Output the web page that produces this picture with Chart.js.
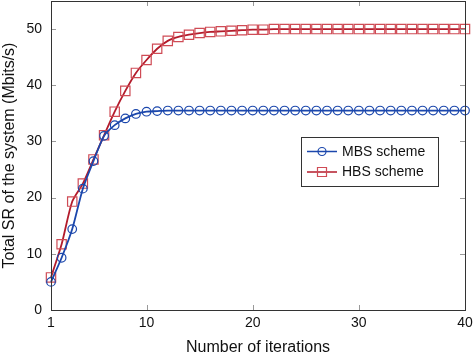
<!DOCTYPE html>
<html><head><meta charset="utf-8">
<script src="https://cdn.jsdelivr.net/npm/chart.js@4"></script>
<style>html,body{margin:0;padding:0;background:#fff}#wrap{width:474px;height:353px}</style>
</head><body><div id="wrap"><canvas id="c" width="474" height="353"></canvas></div>
<script>
const iterations = [1,2,3,4,5,6,7,8,9,10,11,12,13,14,15,16,17,18,19,20,21,22,23,24,25,26,27,28,29,30,31,32,33,34,35,36,37,38,39,40];
const mbs = [5.0,9.3,14.4,21.6,26.5,31.0,32.9,34.1,34.9,35.3,35.4,35.5,35.5,35.5,35.5,35.5,35.5,35.5,35.5,35.5,35.5,35.5,35.5,35.5,35.5,35.5,35.5,35.5,35.5,35.5,35.5,35.5,35.5,35.5,35.5,35.5,35.5,35.5,35.5,35.5];
const hbs = [5.8,11.7,19.3,22.5,26.8,31.1,35.3,39.0,42.2,44.5,46.5,47.9,48.6,49.0,49.3,49.5,49.6,49.7,49.8,49.9,49.9,50.0,50.0,50.0,50.0,50.0,50.0,50.0,50.0,50.0,50.0,50.0,50.0,50.0,50.0,50.0,50.0,50.0,50.0,50.0];
const xTicks = [1,10,20,30,40];
const yTicks = [0,10,20,30,40,50];
const seriesNames = ['MBS scheme','HBS scheme'];

const BLUE = '#1b47ac', RED = '#b31b2b', RED_M = '#cf4b55';
const FONT = 'Liberation Sans, Arial, Helvetica, sans-serif';

const boxPlugin = {
  id: 'box',
  afterDatasetsDraw(chart) {
    const {ctx, chartArea: a, scales: {x, y}} = chart;
    ctx.save();
    ctx.strokeStyle = '#999'; ctx.lineWidth = 1;
    ctx.beginPath();
    xTicks.forEach(v => {
      const px = Math.round(x.getPixelForValue(v)) + 0.5;
      ctx.moveTo(px, a.bottom); ctx.lineTo(px, a.bottom - 5);
      ctx.moveTo(px, a.top); ctx.lineTo(px, a.top + 5);
    });
    yTicks.forEach(v => {
      const py = Math.round(y.getPixelForValue(v)) + 0.5;
      ctx.moveTo(a.left, py); ctx.lineTo(a.left + 5, py);
      ctx.moveTo(a.right, py); ctx.lineTo(a.right - 5, py);
    });
    ctx.stroke();
    ctx.strokeStyle = '#333';
    ctx.strokeRect(Math.round(a.left) + 0.5, Math.round(a.top) + 0.5, Math.round(a.right - a.left), Math.round(a.bottom - a.top));
    // legend
    const lx = 301, ly = 137, lw = 137, lh = 49;
    ctx.fillStyle = '#fff';
    ctx.fillRect(lx, ly, lw, lh);
    ctx.strokeStyle = '#333';
    ctx.strokeRect(lx + 0.5, ly + 0.5, lw, lh);
    const items = [{c: BLUE, m: BLUE, s: 'circle', t: seriesNames[0], yy: 151.5},
                   {c: RED, m: RED_M, s: 'rect', t: seriesNames[1], yy: 172}];
    items.forEach(it => {
      ctx.strokeStyle = it.c; ctx.lineWidth = 1.5;
      ctx.beginPath(); ctx.moveTo(307, it.yy); ctx.lineTo(337, it.yy); ctx.stroke();
      ctx.strokeStyle = it.m; ctx.lineWidth = 1.2;
      ctx.beginPath();
      if (it.s === 'circle') ctx.arc(322, it.yy, 4, 0, Math.PI * 2);
      else ctx.rect(317.5, it.yy - 4.5, 9, 9);
      ctx.stroke();
      ctx.fillStyle = '#111';
      ctx.font = '14px ' + FONT;
      ctx.textBaseline = 'middle'; ctx.textAlign = 'left';
      ctx.fillText(it.t, 342, it.yy + 0.5);
    });
    ctx.restore();
  }
};

new Chart(document.getElementById('c'), {
  type: 'line',
  data: {
    datasets: [
      {label: seriesNames[0], data: iterations.map((v, i) => ({x: v, y: mbs[i]})),
       borderColor: BLUE, borderWidth: 1.8, pointStyle: 'circle', pointRadius: 4.3,
       pointBorderColor: BLUE, pointBackgroundColor: 'rgba(0,0,0,0)', pointBorderWidth: 1.2, tension: 0.25, clip: false},
      {label: seriesNames[1], data: iterations.map((v, i) => ({x: v, y: hbs[i]})),
       borderColor: RED, borderWidth: 1.8, pointStyle: 'rect', pointRadius: 6.6,
       pointBorderColor: RED_M, pointBackgroundColor: 'rgba(0,0,0,0)', pointBorderWidth: 1.2, tension: 0.25, clip: false}
    ]
  },
  options: {
    responsive: false, animation: false,
    layout: {autoPadding: false, padding: {top: 1, right: 9, left: 0, bottom: 0}},
    plugins: {legend: {display: false}, tooltip: {enabled: false}},
    scales: {
      x: {
        type: 'linear', min: 1, max: 40,
        afterBuildTicks: s => { s.ticks = xTicks.map(v => ({value: v})); },
        afterFit: s => { s.height = 43; s.paddingLeft = 0; s.paddingRight = 0; },
        grid: {display: false, drawTicks: false},
        border: {display: false},
        ticks: {color: '#111', font: {family: FONT, size: 14}, padding: 5, maxRotation: 0},
        title: {display: true, text: 'Number of iterations', color: '#111', font: {family: FONT, size: 16}, padding: {top: 0, bottom: -4}}
      },
      y: {
        min: 0, max: 55,
        afterBuildTicks: s => { s.ticks = yTicks.map(v => ({value: v})); },
        afterFit: s => { s.width = 51; s.paddingTop = 0; s.paddingBottom = 0; },
        grid: {display: false, drawTicks: false},
        border: {display: false},
        ticks: {color: '#111', font: {family: FONT, size: 14}, padding: 9},
        title: {display: true, text: 'Total SR of the system (Mbits/s)', color: '#111', font: {family: FONT, size: 16}, padding: {top: 0, bottom: 0}}
      }
    }
  },
  plugins: [boxPlugin]
});
</script></body></html>
